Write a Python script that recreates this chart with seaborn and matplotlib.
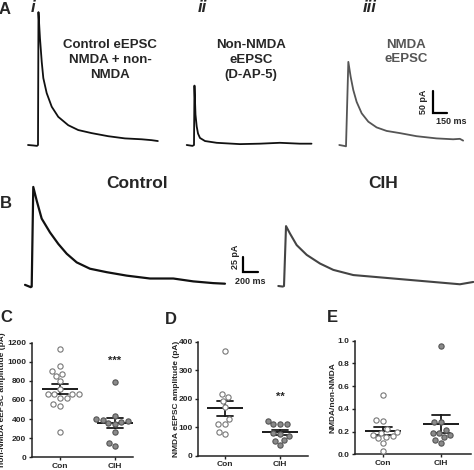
import matplotlib
matplotlib.use("Agg")
import numpy as np
import pandas as pd
import seaborn as sns
import matplotlib.pyplot as plt

W, H = 474, 470

# ---------------- traces: time (ms from stimulus), current (pA, drawn upward)
tr_i_t = [-107, -53, -11, 0, 5, 21, 40, 57, 93, 147, 217, 324, 431, 575, 752, 931, 1110, 1217, 1284]
tr_i_pa = [0, -1, -2, 0, 302, 243, 189, 152, 118, 87, 64, 45, 34, 27, 20, 15, 13, 11, 9]

tr_ii_t = [-78, -16, 0, 5, 16, 29, 43, 64, 118, 243, 492, 706, 920, 1134, 1259]
tr_ii_pa = [0, -2, 0, 135, 69, 42, 26, 16, 9, 5, 2, 3, 5, 3, 3]

tr_iii_t = [-72, -21, 0, 25, 50, 78, 114, 168, 239, 328, 435, 578, 756, 970, 1148, 1220, 1255]
tr_iii_pa = [0, -2, -3, 189, 155, 125, 98, 72, 53, 40, 32, 27, 20, 15, 13, 14, 10]

tr_con_t = [-89, -13, 0, 21, 67, 133, 244, 355, 467, 600, 777, 1000, 1267, 1577, 1888, 2155, 2421, 2577]
tr_con_pa = [2, -2, -1, 172, 148, 117, 93, 73, 56, 41, 30, 24, 18, 13, 13, 8, 5, 4]

tr_cih_t = [-76, -17, 0, 27, 80, 169, 303, 480, 657, 924, 1191, 1546, 1991, 2346, 2524]
tr_cih_pa = [0, -1, 0, 104, 91, 71, 54, 39, 28, 19, 16, 12, 7, 3, 7]

# ---------------- group data
groups = ["Con", "CIH"]
nonnmda_con = [1130, 960, 905, 875, 850, 795, 715, 665, 660, 665, 660, 625, 625, 555, 540, 260]
nonnmda_cih = [790, 430, 400, 395, 360, 370, 375, 345, 270, 150, 120]
nmda_con = [368, 216, 205, 191, 170, 129, 110, 110, 84, 76]
nmda_cih = [122, 110, 110, 110, 80, 75, 70, 55, 53, 37]
ratio_con = [0.52, 0.30, 0.29, 0.22, 0.20, 0.19, 0.17, 0.16, 0.15, 0.14, 0.10, 0.03]
ratio_cih = [0.95, 0.28, 0.28, 0.21, 0.19, 0.19, 0.17, 0.15, 0.13, 0.10]

sns.set_style("ticks")
plt.rcParams["font.family"] = ["Liberation Sans", "DejaVu Sans"]
plt.rcParams["font.weight"] = "bold"

fig = plt.figure(figsize=(W / 100, H / 100), dpi=100)


def px_axes(x0, y0, x1, y1):
    return fig.add_axes([x0 / W, 1 - y1 / H, (x1 - x0) / W, (y1 - y0) / H])


def px_text(x, y, s, **kw):
    kw.setdefault("ha", "center")
    kw.setdefault("va", "center")
    kw.setdefault("fontweight", "bold")
    fig.text(x / W, 1 - y / H, s, **kw)


def draw_trace(ax, t, pa, onset, color, lw=1.3):
    df = pd.DataFrame({"t": np.asarray(t) + onset, "pa": pa})
    sns.lineplot(data=df, x="t", y="pa", ax=ax, color=color, lw=lw,
                 sort=False, estimator=None)


# ---------------- row A
ms_a, pa_a = 150 / 14, 50 / 22
axA = px_axes(0, 0, W, 160)
draw_trace(axA, tr_i_t, tr_i_pa, 38 * ms_a, "#111111")
draw_trace(axA, tr_ii_t, tr_ii_pa, 194 * ms_a, "#111111")
draw_trace(axA, tr_iii_t, tr_iii_pa, 346 * ms_a, "#555555")
axA.set_xlim(0, W * ms_a)
axA.set_ylim(-15 * pa_a, 145 * pa_a)
sb_t, sb_p = 432.7 * ms_a, (145 - 113.3) * pa_a
axA.plot([sb_t, sb_t, sb_t + 150], [sb_p + 50, sb_p, sb_p], color="black", lw=1.6,
         solid_joinstyle="miter")
axA.axis("off")

px_text(-1, 10, "A", fontsize=12, ha="left")
px_text(33, 8, "i", fontsize=12, style="italic")
px_text(202, 8, "ii", fontsize=12, style="italic")
px_text(370, 8, "iii", fontsize=12, style="italic")
px_text(110, 60, "Control eEPSC\nNMDA + non-\nNMDA", fontsize=9.5, linespacing=1.3)
px_text(251, 60, "Non-NMDA\neEPSC\n(D-AP-5)", fontsize=9.5, linespacing=1.3)
px_text(406, 52, "NMDA\neEPSC", fontsize=9.5, linespacing=1.3, color="#555555")
px_text(424, 102, "50 pA", fontsize=6.5, rotation=90)
px_text(451, 122, "150 ms", fontsize=6.5)

# ---------------- row B
ms_b, pa_b = 200 / 15, 25 / 14.4
axB = px_axes(0, 165, W, 300)
draw_trace(axB, tr_con_t, tr_con_pa, 31.7 * ms_b, "#111111", lw=1.6)
draw_trace(axB, tr_cih_t, tr_cih_pa, 284 * ms_b, "#444444", lw=1.5)
axB.set_xlim(0, W * ms_b)
axB.set_ylim(-14 * pa_b, 121 * pa_b)
sb_t, sb_p = 243.3 * ms_b, (286 - 271.7) * pa_b
axB.plot([sb_t, sb_t, sb_t + 200], [sb_p + 25, sb_p, sb_p], color="black", lw=1.6,
         solid_joinstyle="miter")
axB.axis("off")

px_text(0, 203, "B", fontsize=12, ha="left")
px_text(137, 183, "Control", fontsize=12.5)
px_text(383, 183, "CIH", fontsize=12.5)
px_text(236, 257, "25 pA", fontsize=6.5, rotation=90)
px_text(250, 282, "200 ms", fontsize=6.5)


# ---------------- scatter panels
def scatter_panel(ax, con, cih, ylabel, yticks, ylim, xlim, label_x, fmt=None):
    df = pd.DataFrame({"group": ["Con"] * len(con) + ["CIH"] * len(cih),
                       "val": list(con) + list(cih)})
    sns.swarmplot(data=df[df.group == "Con"], x="group", y="val", order=groups,
                  ax=ax, size=3.8, color="white", edgecolor="#777777", linewidth=0.8)
    sns.swarmplot(data=df[df.group == "CIH"], x="group", y="val", order=groups,
                  ax=ax, size=3.8, color="#8a8a8a", edgecolor="#555555", linewidth=0.8)
    sns.pointplot(data=df, x="group", y="val", order=groups, ax=ax,
                  errorbar="se", capsize=0.3, markers="_", linestyles="none",
                  color="#1a1a1a", markersize=26, markeredgewidth=1.4,
                  err_kws={"linewidth": 1.3})
    ax.set_ylim(*ylim)
    ax.set_xlim(*xlim)
    ax.set_yticks(yticks)
    if fmt:
        ax.set_yticklabels([fmt.format(v) for v in yticks])
    ax.set_xlabel("")
    ax.set_ylabel(ylabel, fontsize=6, fontweight="bold")
    ax.yaxis.set_label_coords(label_x, 0.5)
    ax.tick_params(labelsize=6, length=2.5, width=1, pad=1.5, color="#222222")
    for lab in ax.get_xticklabels() + ax.get_yticklabels():
        lab.set_fontweight("bold")
    for sp in ("left", "bottom"):
        ax.spines[sp].set_linewidth(1.1)
        ax.spines[sp].set_color("#222222")
    sns.despine(ax=ax)


axC = px_axes(31.7, 342.7, 133, 457.3)
scatter_panel(axC, nonnmda_con, nonnmda_cih, "non-NMDA eEPSC amplitude (pA)",
              [0, 200, 400, 600, 800, 1000, 1200], (0, 1200), (-0.515, 1.327), -0.25)
axC.text(1, 1010, "***", ha="center", va="center", fontsize=8, fontweight="bold")

axD = px_axes(198.3, 341.7, 308, 455.7)
scatter_panel(axD, nmda_con, nmda_cih, "NMDA eEPSC amplitude (pA)",
              [0, 100, 200, 300, 400], (0, 400), (-0.485, 1.51), -0.17)
axD.text(1, 205, "**", ha="center", va="center", fontsize=8, fontweight="bold")

axE = px_axes(355, 340.7, 471, 454.3)
scatter_panel(axE, ratio_con, ratio_cih, "NMDA/non-NMDA",
              [0, 0.2, 0.4, 0.6, 0.8, 1.0], (0, 1.0), (-0.483, 1.517), -0.16,
              fmt="{:.1f}")

px_text(0, 318, "C", fontsize=12, ha="left")
px_text(165, 319, "D", fontsize=12, ha="left")
px_text(327, 318, "E", fontsize=12, ha="left")

fig.savefig("out.png", dpi=100)
